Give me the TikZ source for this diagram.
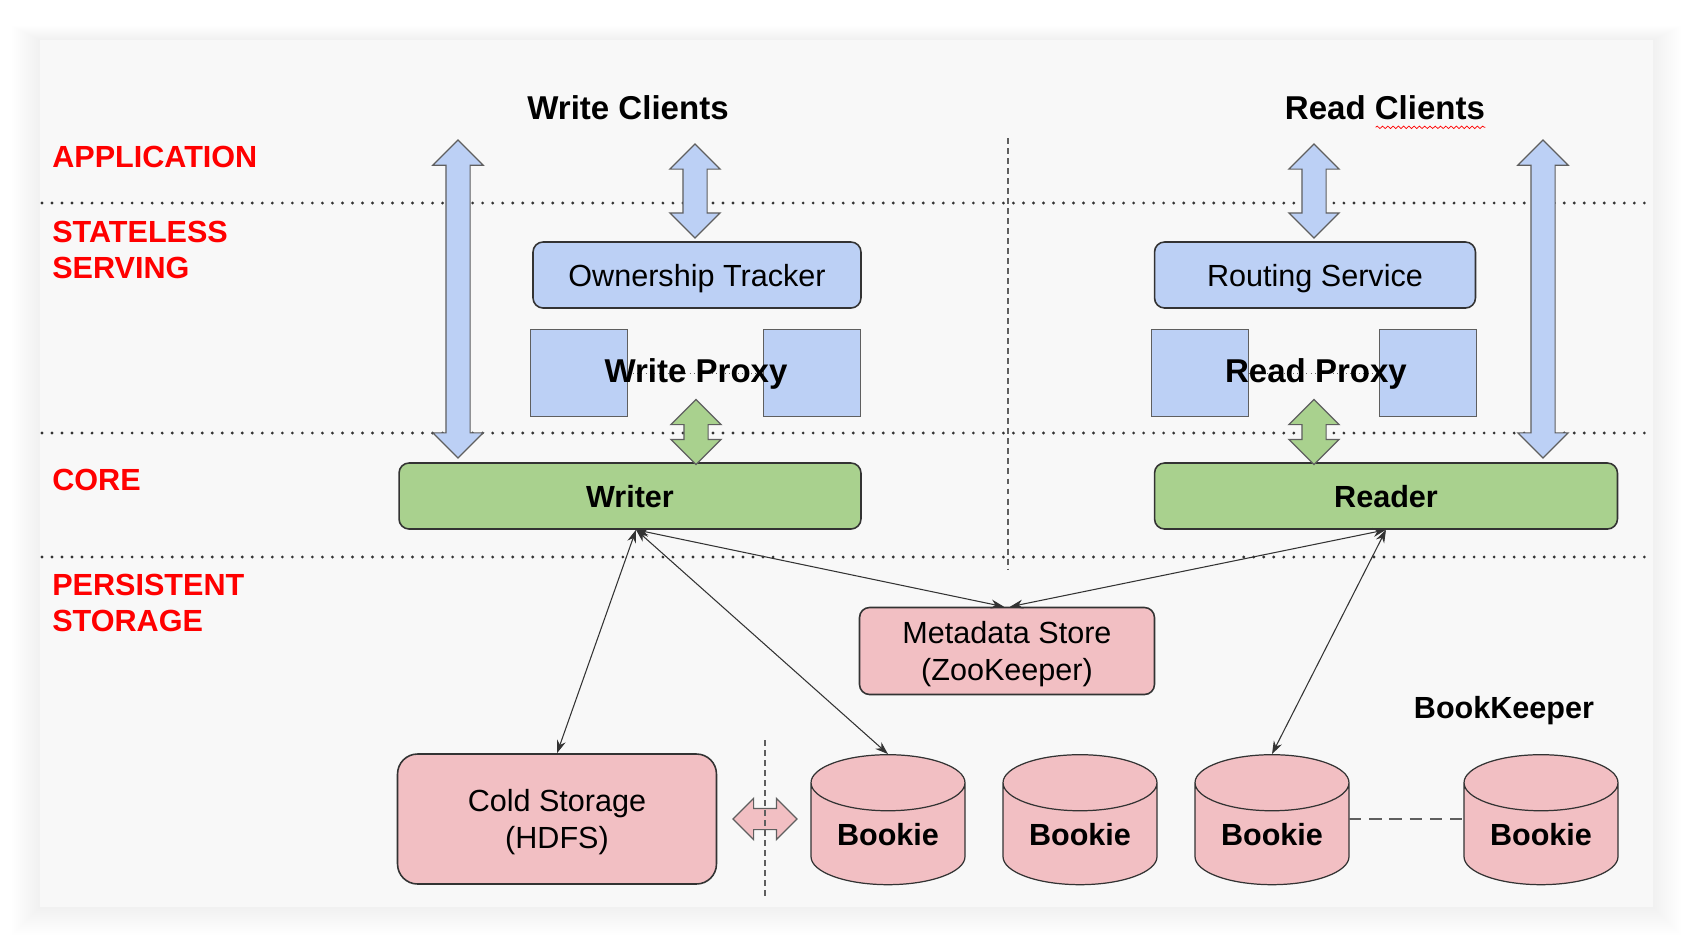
\documentclass[tikz,border=0pt]{standalone}
\usepackage{fontspec}
\setmainfont{Liberation Sans}
\usetikzlibrary{shapes.geometric,shapes.arrows,arrows.meta,calc,decorations.pathmorphing}
\definecolor{ProxyBlue}{HTML}{BCD0F5}
\definecolor{CoreGreen}{HTML}{A9D18E}
\definecolor{StorePink}{HTML}{F2BFC3}
\definecolor{LayerRed}{HTML}{FF0000}
\definecolor{PanelGrey}{HTML}{F8F8F8}
\definecolor{LineDark}{HTML}{333333}
\definecolor{LineGrey}{HTML}{5F5F5F}
\tikzset{
    % Base box style
    basebox/.style={
        draw=LineDark,
        line width=0.9pt,
        rounded corners=0.2cm,
        align=center,
        inner sep=0pt,
        text depth=0pt,
        font=\fontsize{17.4}{21.5}\selectfont
    },
    % Stateless serving boxes
    bluebox/.style={
        basebox,
        fill=ProxyBlue,
        minimum height=1.32cm
    },
    % Core boxes
    corebox/.style={
        basebox,
        fill=CoreGreen,
        minimum height=1.32cm,
        font=\fontsize{17.4}{21.5}\selectfont\bfseries
    },
    % Storage boxes
    storebox/.style={
        basebox,
        fill=StorePink
    },
    % Proxy instance square
    proxysquare/.style={
        draw=LineGrey,
        line width=0.7pt,
        fill=ProxyBlue,
        minimum width=1.94cm,
        minimum height=1.74cm,
        inner sep=0pt
    },
    % Bookie cylinder
    bookienode/.style={
        cylinder,
        shape border rotate=90,
        aspect=0.55,
        draw=LineDark,
        line width=0.7pt,
        fill=StorePink,
        minimum width=3.08cm,
        minimum height=2.6cm,
        inner sep=0pt,
        text depth=0pt,
        font=\fontsize{17.4}{21.5}\selectfont\bfseries
    },
    % Fat double arrow
    blockarrow/.style={
        double arrow,
        draw=LineGrey,
        line width=0.7pt,
        inner xsep=0pt,
        inner ysep=0.23cm,
        double arrow head extend=0.26cm
    },
    % Thin connector
    connector/.style={
        <->,
        >={Stealth[length=0.26cm, width=0.18cm]},
        draw=LineDark,
        line width=0.6pt
    },
    % Layer separator
    layerline/.style={
        draw=LineDark,
        line width=1.8pt,
        line cap=round,
        dash pattern=on 0pt off 5.7pt
    },
    % Dashed divider
    divider/.style={
        draw=LineGrey,
        line width=0.7pt,
        dash pattern=on 3.4pt off 2.3pt
    },
    % Layer name
    layerlabel/.style={
        anchor=west,
        align=left,
        inner sep=0pt,
        text=LayerRed,
        font=\fontsize{17.4}{20.3}\selectfont\bfseries
    },
    % Heading text
    headlabel/.style={
        inner sep=0pt,
        text depth=0pt,
        font=\fontsize{18.8}{22}\selectfont\bfseries
    }
}

\begin{document}
\begin{tikzpicture}[x=0.02cm, y=-0.02cm]
        \useasboundingbox (0,0) rectangle (1694,948);
        % Panel with soft shadow
        \foreach \i in {1,...,14}
            \fill[black, opacity=0.005] (40-2*\i,40-\i) rectangle (1653+2*\i,907+2*\i);
        \fill[PanelGrey] (40,40) rectangle (1653,907);

        % Layer separators
        \draw[layerline] (42,203) -- (1645,203);
        \draw[layerline] (42,433) -- (1645,433);
        \draw[layerline] (42,557) -- (1645,557);
        \draw[divider] (1008,138) -- (1008,570);

        % Layer names
        \node[layerlabel] (lapp) at (52,157) {APPLICATION};
        \node[layerlabel] (lserve) at (52,250) {STATELESS\\SERVING};
        \node[layerlabel] (lcore) at (52,480) {CORE};
        \node[layerlabel] (lstore) at (52,603) {PERSISTENT\\STORAGE};

        % Write side
        \node[headlabel] (writecl) at (628,108) {Write Clients};
        \node[bluebox, minimum width=6.56cm] (owner) at (697,275) {Ownership Tracker};
        \node[proxysquare] (wpl) at (579,373) {};
        \node[proxysquare] (wpr) at (812,373) {};
        \draw[LineGrey, line width=0.5pt, dotted] (wpl) -- (wpr);
        \node[headlabel] (wproxy) at (696,371) {Write Proxy};
        \node[corebox, minimum width=9.24cm] (writer) at (630,496) {Writer};
        \node[blockarrow, fill=ProxyBlue, rotate=90, minimum height=6.36cm] (wbig) at (458,299) {};
        \node[blockarrow, fill=ProxyBlue, rotate=90, minimum height=1.88cm] (wclarr) at (695,191) {};
        \node[blockarrow, fill=CoreGreen, rotate=90, minimum height=1.3cm] (wgarr) at (696,432) {};

        % Read side
        \node[headlabel] (readcl) at (1385,108) {Read Clients};
        \draw[LayerRed, line width=0.4pt, decorate, decoration={snake, amplitude=0.7pt, segment length=3pt}]
            ($(readcl.south west)+(91,7)$) -- ($(readcl.south east)+(0,7)$);
        \node[bluebox, minimum width=6.42cm] (routing) at (1315,275) {Routing Service};
        \node[proxysquare] (rpl) at (1200,373) {};
        \node[proxysquare] (rpr) at (1428,373) {};
        \draw[LineGrey, line width=0.5pt, dotted] (rpl) -- (rpr);
        \node[headlabel] (rproxy) at (1316,371) {Read Proxy};
        \node[corebox, minimum width=9.26cm] (reader) at (1386,496) {Reader};
        \node[blockarrow, fill=ProxyBlue, rotate=90, minimum height=6.36cm] (rbig) at (1543,299) {};
        \node[blockarrow, fill=ProxyBlue, rotate=90, minimum height=1.88cm] (rclarr) at (1314,191) {};
        \node[blockarrow, fill=CoreGreen, rotate=90, minimum height=1.3cm] (rgarr) at (1314,432) {};

        % Persistent storage
        \node[storebox, minimum width=5.9cm, minimum height=1.74cm] (meta) at (1007,651) {Metadata Store\\(ZooKeeper)};
        \node[storebox, rounded corners=0.4cm, minimum width=6.38cm, minimum height=2.6cm] (cold) at (557,819) {Cold Storage\\(HDFS)};
        \node[bookienode] (b1) at (888,834) {Bookie};
        \node[bookienode] (b2) at (1080,834) {Bookie};
        \node[bookienode] (b3) at (1272,834) {Bookie};
        \node[bookienode] (b4) at (1541,834) {Bookie};
        \node[font=\fontsize{17.4}{21.5}\selectfont\bfseries, inner sep=0pt] (bk) at (1504,711) {BookKeeper};
        \coordinate (b3r) at ($(b3.center)+(77,-15)$);
        \coordinate (b4l) at ($(b4.center)+(-77,-15)$);
        \draw[LineGrey, line width=1.1pt, dash pattern=on 7pt off 4.5pt] (b3r) -- (b4l);
        \node[blockarrow, fill=StorePink, minimum height=1.28cm, inner ysep=0.2cm, double arrow head extend=0.2cm] (tier) at (765,819) {};
        \draw[divider] (765,740) -- (765,897);

        % Connectors
        \coordinate (wtap) at ($(writer.south)+(6,0)$);
        \coordinate (mleft) at ($(meta.north)+(-3,0)$);
        \coordinate (mright) at ($(meta.north)+(3,0)$);
        \draw[connector] (wtap) -- (cold.north);
        \draw[connector] (wtap) -- (b1.north);
        \draw[connector] (wtap) -- (mleft);
        \draw[connector] (reader.south) -- (mright);
        \draw[connector] (reader.south) -- (b3.north);
    \end{tikzpicture}
\end{document}
